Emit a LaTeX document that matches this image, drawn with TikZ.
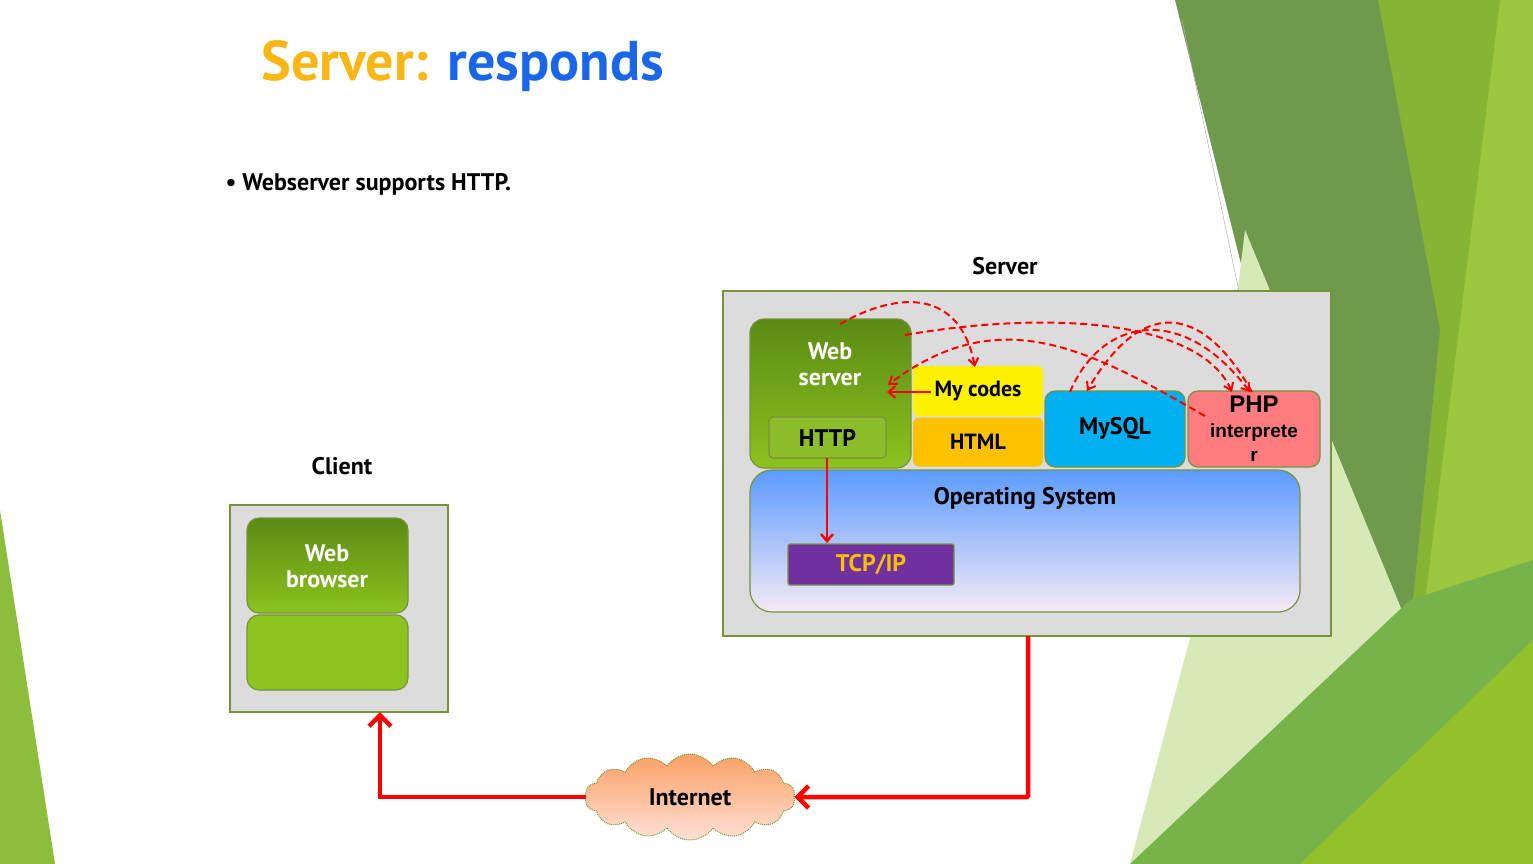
\documentclass[tikz,border=0pt]{standalone}
\usepackage{fontspec}
\setmainfont{PT Sans}
\newfontfamily\arialf{Liberation Sans}
\usetikzlibrary{shapes.symbols,arrows.meta}
\definecolor{olv}{HTML}{77933C}
\definecolor{dgr}{HTML}{5A8A14}
\definecolor{lgr}{HTML}{8CC31F}
\definecolor{rd}{HTML}{FF0000}
\begin{document}
\begin{tikzpicture}[x=1pt,y=-1pt,
 box/.style={draw=olv,line width=1.2pt,rounded corners=10pt},
 lbl/.style={font=\fontsize{24}{26}\selectfont\bfseries},
 dsh/.style={draw=rd,line width=2pt,dash pattern=on 7pt off 4pt,-{Straight Barb[length=7pt,width=10pt]}},
 big/.style={draw=rd,line width=4.5pt,-{Straight Barb[length=11pt,width=22pt]}}]
\useasboundingbox (0,0) rectangle (1533,864);
% background decorations
\fill[white] (0,0) rectangle (1533,864);
\fill[color={rgb,255:red,155;green,198;blue,62}] (1375,0)--(1533,0)--(1533,864)--(1290,864)--cycle;
\fill[color={rgb,255:red,134;green,181;blue,52}] (1378,0)--(1500,0)--(1420,640)--(1380,560)--cycle;
\fill[color={rgb,255:red,111;green,154;blue,78}] (1175,0)--(1378,0)--(1440,330)--(1410,630)--(1270,380)--cycle;
\fill[color={rgb,255:red,216;green,233;blue,184}] (1245,230)--(1410,630)--(1130,864)--(1200,600)--cycle;
\fill[color={rgb,255:red,119;green,178;blue,74}] (1130,864)--(1410,600)--(1533,560)--(1533,864)--cycle;
\fill[color={rgb,255:red,146;green,193;blue,44}] (1300,864)--(1533,640)--(1533,864)--cycle;
\fill[color={rgb,255:red,140;green,190;blue,60}] (0,510)--(55,864)--(0,864)--cycle;
\draw[gray!60,line width=0.5pt] (1182,20)--(1245,320);
% title
\node[font=\fontsize{56}{60}\selectfont\bfseries,anchor=west] (title) at (258,66)
 {\textcolor[HTML]{F9B614}{Server:} \textcolor[HTML]{1A66E8}{responds}};
\node[font=\fontsize{24}{28}\selectfont\bfseries,anchor=west] (bul) at (222,184) {• Webserver supports HTTP.};
% server
\node[lbl] (slbl) at (1005,266) {Server};
\draw[olv,line width=1.5pt,fill={rgb,255:red,220;green,220;blue,220}] (723,291) rectangle (1331,636);
\node (srv) at (1027,463) {};
\shade[top color=dgr,bottom color=lgr,draw=olv,line width=1.2pt,rounded corners=14pt] (750,319) rectangle (911,468);
\node[lbl,white,align=center] (ws) at (830,364) {Web\\server};
\node[box,rounded corners=4pt,fill={rgb,255:red,141;green,189;blue,42},minimum width=117pt,minimum height=41pt,lbl] (http) at (827.5,437.5) {HTTP};
\node[box,draw=none,rounded corners=6pt,fill=yellow,minimum width=130pt,minimum height=50pt,font=\fontsize{22}{24}\selectfont\bfseries] (myc) at (978,391) {My codes};
\node[box,draw=none,rounded corners=6pt,fill={rgb,255:red,252;green,194;blue,0},minimum width=130pt,minimum height=49pt,font=\fontsize{22}{24}\selectfont\bfseries] (html) at (978,442) {HTML};
\node[box,fill={rgb,255:red,0;green,176;blue,240},minimum width=140pt,minimum height=76pt,lbl] (mysql) at (1115,429) {MySQL};
\node[box,fill={rgb,255:red,255;green,124;blue,128},minimum width=132pt,minimum height=76pt] (php) at (1254,429) {};
\node[font=\arialf\bfseries\fontsize{24}{24}\selectfont] (phpt) at (1254,404) {PHP};
\node[font=\arialf\bfseries\fontsize{19}{19}\selectfont] (intp) at (1254,433) {interprete};
\node[font=\arialf\bfseries\fontsize{19}{19}\selectfont] (intr) at (1254,456) {r};
\shade[top color={rgb,255:red,91;green,155;blue,255},bottom color={rgb,255:red,246;green,234;blue,246},draw=olv,line width=1.2pt,rounded corners=22pt] (750,470) rectangle (1300,612);
\node[lbl] (os) at (1025,498) {Operating System};
\node[box,rounded corners=2pt,fill={rgb,255:red,112;green,48;blue,160},minimum width=166pt,minimum height=41pt,lbl,text={rgb,255:red,249;green,192;blue,0}] (tcp) at (871,564.5) {TCP/IP};
% client
\node[lbl] (clbl) at (342,466) {Client};
\draw[olv,line width=1.5pt,fill={rgb,255:red,220;green,220;blue,220}] (230,505) rectangle (448,712);
\node (cli) at (380,712) {};
\shade[top color=dgr,bottom color=lgr,draw=olv,line width=1.2pt,rounded corners=12pt] (247,518) rectangle (408,613);
\node[lbl,white,align=center] (wb) at (327,566) {Web\\browser};
\node[box,rounded corners=12pt,fill=lgr,minimum width=161pt,minimum height=75pt] (low) at (327.5,652.5) {};
% internet
\node[cloud,cloud puffs=14,cloud puff arc=110,aspect=2.6,minimum width=210pt,minimum height=86pt,
 draw=olv,densely dotted,line width=1pt,top color={rgb,255:red,250;green,160;blue,100},bottom color={rgb,255:red,255;green,225;blue,215},
 lbl] (net) at (690,797) {Internet};
% arrows
\draw[big,rounded corners=1pt] (1028,636) |- (net.east);
\draw[big] (net.west) -| (cli.center);
\draw[rd,line width=2.5pt,-{Straight Barb[length=7pt,width=12pt]}] (827,458) -- (827,543);
\draw[rd,line width=2pt,-{Straight Barb[length=7pt,width=12pt]}] (931,392) -- (887,392);
\draw[dsh] (840,324) .. controls (900,290) and (960,290) .. (975,367);
\draw[dsh] (1205,416) .. controls (1090,350) and (1000,300) .. (888,385);
\draw[dsh] (905,335) .. controls (1050,310) and (1200,320) .. (1232,392);
\draw[dsh] (1070,392) .. controls (1100,320) and (1180,300) .. (1250,392);
\draw[dsh] (1252,392) .. controls (1200,300) and (1140,300) .. (1087,391);
\end{tikzpicture}
\end{document}
